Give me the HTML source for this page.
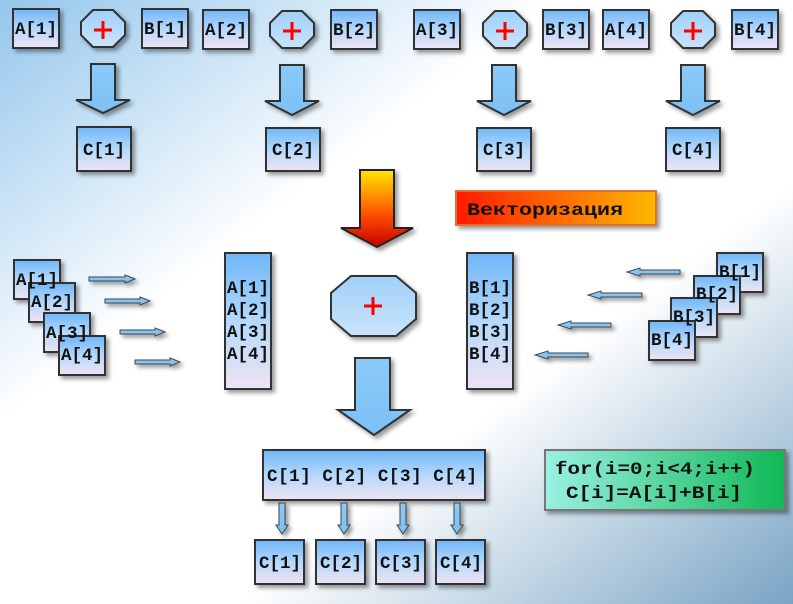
<!DOCTYPE html>
<html><head><meta charset="utf-8"><style>
html,body{margin:0;padding:0;width:793px;height:604px;overflow:hidden}
svg{display:block}
text{font-family:"Liberation Mono",monospace;font-weight:bold;font-size:17.5px;fill:#111}
</style></head><body>
<svg width="793" height="604" viewBox="0 0 793 604" xmlns="http://www.w3.org/2000/svg">
<defs>
<linearGradient id="bg" x1="0" y1="0" x2="1" y2="1">
<stop offset="0" stop-color="#94c6ec"/><stop offset="0.35" stop-color="#ffffff"/><stop offset="0.65" stop-color="#ffffff"/><stop offset="1" stop-color="#7aa4c4"/></linearGradient>
<linearGradient id="bx" x1="0" y1="0" x2="0" y2="1">
<stop offset="0" stop-color="#6fb6f8"/><stop offset="0.5" stop-color="#b4d8fb"/><stop offset="1" stop-color="#eee3f3"/></linearGradient>
<linearGradient id="oc" x1="0" y1="0" x2="0" y2="1">
<stop offset="0" stop-color="#9fd0f8"/><stop offset="1" stop-color="#c9e4fb"/></linearGradient>
<linearGradient id="ar" x1="0" y1="0" x2="0" y2="1">
<stop offset="0" stop-color="#8bcaf8"/><stop offset="1" stop-color="#7cc0f5"/></linearGradient>
<linearGradient id="ry" x1="0" y1="0" x2="0" y2="1">
<stop offset="0" stop-color="#ffe600"/><stop offset="0.6" stop-color="#ff4a00"/><stop offset="1" stop-color="#c40000"/></linearGradient>
<linearGradient id="vk" x1="0" y1="0" x2="1" y2="0">
<stop offset="0" stop-color="#ff1a00"/><stop offset="1" stop-color="#ffb800"/></linearGradient>
<linearGradient id="gr" x1="0" y1="0" x2="1" y2="0">
<stop offset="0" stop-color="#9af0e4"/><stop offset="1" stop-color="#10b855"/></linearGradient>
<filter id="sh" x="-20%" y="-20%" width="150%" height="150%"><feDropShadow dx="3" dy="3" stdDeviation="2" flood-color="#000" flood-opacity="0.4"/></filter>
</defs>
<rect width="793" height="604" fill="url(#bg)"/>
<g stroke="#333" stroke-width="2" filter="url(#sh)">
<rect x="13" y="9" width="46" height="39" fill="url(#bx)"/>
<rect x="142" y="9" width="46" height="39" fill="url(#bx)"/>
<rect x="203" y="10" width="46" height="39" fill="url(#bx)"/>
<rect x="331" y="10" width="46" height="39" fill="url(#bx)"/>
<rect x="414" y="10" width="46" height="39" fill="url(#bx)"/>
<rect x="543" y="10" width="46" height="39" fill="url(#bx)"/>
<rect x="603" y="10" width="46" height="39" fill="url(#bx)"/>
<rect x="732" y="10" width="46" height="39" fill="url(#bx)"/>
<polygon points="93,10 113,10 125,22 125,35 113,47 93,47 81,35 81,22" fill="url(#oc)"/>
<polygon points="282,11 302,11 314,23 314,36 302,48 282,48 270,36 270,23" fill="url(#oc)"/>
<polygon points="495,11 515,11 527,23 527,36 515,48 495,48 483,36 483,23" fill="url(#oc)"/>
<polygon points="683,11 703,11 715,23 715,36 703,48 683,48 671,36 671,23" fill="url(#oc)"/>
<polygon points="91,64 115,64 115,100 130,100 103,113 76,100 91,100" fill="url(#ar)"/>
<polygon points="280,65 304,65 304,101 319,101 292,115 265,101 280,101" fill="url(#ar)"/>
<polygon points="492,65 516,65 516,101 531,101 504,115 477,101 492,101" fill="url(#ar)"/>
<polygon points="681,65 705,65 705,101 720,101 693,115 666,101 681,101" fill="url(#ar)"/>
<rect x="77" y="127" width="54" height="44" fill="url(#bx)"/>
<rect x="266" y="128" width="54" height="43" fill="url(#bx)"/>
<rect x="477" y="128" width="54" height="43" fill="url(#bx)"/>
<rect x="666" y="128" width="54" height="43" fill="url(#bx)"/>
<polygon points="360,170 394,170 394,228 413,228 377,247 341,228 360,228" fill="url(#ry)" stroke="#222"/>
<rect x="456" y="191" width="200" height="34" fill="url(#vk)" stroke="#e07030"/>
<rect x="14" y="260" width="46" height="39" fill="url(#bx)"/>
<rect x="29" y="283" width="46" height="39" fill="url(#bx)"/>
<rect x="44" y="313" width="46" height="39" fill="url(#bx)"/>
<rect x="59" y="336" width="46" height="39" fill="url(#bx)"/>
<g stroke-width="1" stroke="#444">
<polygon points="89,277 125,277 125,275 135,279 125,283 125,281 89,281" fill="url(#ar)"/>
<polygon points="105,299 140,299 140,297 150,301 140,305 140,303 105,303" fill="url(#ar)"/>
<polygon points="120,330 155,330 155,328 165,332 155,336 155,334 120,334" fill="url(#ar)"/>
<polygon points="135,360 170,360 170,358 180,362 170,366 170,364 135,364" fill="url(#ar)"/>
<polygon points="680,270 640,270 640,268 627,272 640,276 640,274 680,274" fill="url(#ar)"/>
<polygon points="642,293 601,293 601,291 588,295 601,299 601,297 642,297" fill="url(#ar)"/>
<polygon points="611,323 571,323 571,321 558,325 571,329 571,327 611,327" fill="url(#ar)"/>
<polygon points="588,353 548,353 548,351 535,355 548,359 548,357 588,357" fill="url(#ar)"/>
</g>
<rect x="225" y="253" width="46" height="136" fill="url(#bx)"/>
<rect x="467" y="253" width="46" height="136" fill="url(#bx)"/>
<polygon points="351,276 396,276 416,293 416,319 396,336 351,336 331,319 331,293" fill="url(#oc)"/>
<polygon points="355,358 390,358 390,410 410,410 374,435 338,410 355,410" fill="url(#ar)"/>
<rect x="717" y="253" width="46" height="39" fill="url(#bx)"/>
<rect x="694" y="276" width="46" height="38" fill="url(#bx)"/>
<rect x="671" y="298" width="46" height="39" fill="url(#bx)"/>
<rect x="649" y="321" width="46" height="39" fill="url(#bx)"/>
<rect x="263" y="450" width="222" height="50" fill="url(#bx)"/>
<rect x="545" y="450" width="240" height="60" fill="url(#gr)" stroke="#777"/>
<g stroke-width="1" stroke="#444">
<polygon points="279,503 285,503 285,525 288,525 282,534 276,525 279,525" fill="url(#ar)"/>
<polygon points="341,503 347,503 347,525 350,525 344,534 338,525 341,525" fill="url(#ar)"/>
<polygon points="400,503 406,503 406,525 409,525 403,534 397,525 400,525" fill="url(#ar)"/>
<polygon points="454,503 460,503 460,525 463,525 457,534 451,525 454,525" fill="url(#ar)"/>
</g>
<rect x="255" y="540" width="49" height="44" fill="url(#bx)"/>
<rect x="316" y="540" width="49" height="44" fill="url(#bx)"/>
<rect x="376" y="540" width="49" height="44" fill="url(#bx)"/>
<rect x="436" y="540" width="49" height="44" fill="url(#bx)"/>
</g>
<g stroke="#f00" stroke-width="3">
<path d="M103,21v18M94,30h18"/><path d="M292,22v18M283,31h18"/><path d="M505,22v18M496,31h18"/><path d="M693,22v18M684,31h18"/>
<path d="M373,297v18M364,306h18"/>
</g>
<g text-anchor="middle">
<text x="36" y="34">A[1]</text><text x="165" y="34">B[1]</text><text x="226" y="35">A[2]</text><text x="354" y="35">B[2]</text>
<text x="437" y="35">A[3]</text><text x="566" y="35">B[3]</text><text x="626" y="35">A[4]</text><text x="755" y="35">B[4]</text>
<text x="104" y="155">C[1]</text><text x="293" y="155">C[2]</text><text x="504" y="155">C[3]</text><text x="693" y="155">C[4]</text>
<text x="37" y="285">A[1]</text><text x="52" y="307">A[2]</text><text x="67" y="338">A[3]</text><text x="82" y="360">A[4]</text>
<text x="248" y="293">A[1]</text><text x="248" y="315">A[2]</text><text x="248" y="337">A[3]</text><text x="248" y="359">A[4]</text>
<text x="490" y="293">B[1]</text><text x="490" y="315">B[2]</text><text x="490" y="337">B[3]</text><text x="490" y="359">B[4]</text>
<text x="740" y="277">B[1]</text><text x="717" y="299">B[2]</text><text x="694" y="322">B[3]</text><text x="672" y="345">B[4]</text>
<text x="280" y="568">C[1]</text><text x="341" y="568">C[2]</text><text x="401" y="568">C[3]</text><text x="461" y="568">C[4]</text>
</g>
<text x="267" y="481" textLength="210" lengthAdjust="spacing">C[1] C[2] C[3] C[4]</text>
<text x="555" y="474" font-size="19" textLength="200" lengthAdjust="spacingAndGlyphs">for(i=0;i&lt;4;i++)</text>
<text x="566" y="498" font-size="19" textLength="176" lengthAdjust="spacingAndGlyphs">C[i]=A[i]+B[i]</text>
<text x="467" y="215" font-size="20" textLength="156" lengthAdjust="spacingAndGlyphs">Векторизация</text>
</svg>
</body></html>
